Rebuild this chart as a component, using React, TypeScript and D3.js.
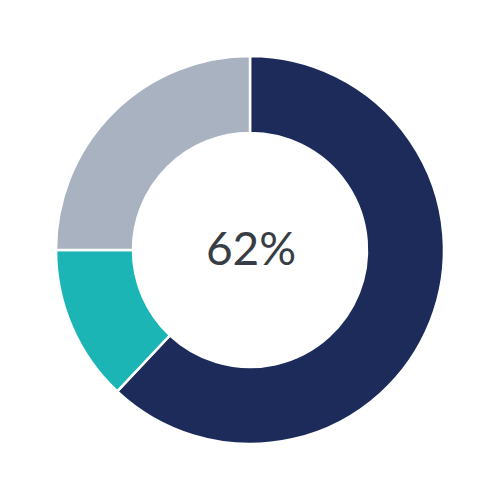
import React from "react";
import * as d3 from "d3";

const labels = ["Navy", "Teal", "Gray"];
const values = [62, 13, 25];
const colors = ["#1c2b5a", "#1bb5b6", "#a8b2c1"];
const centerLabel = "62%";

export default function App() {
  const width = 500;
  const height = 500;
  const outer = 194;
  const inner = 117;

  const pie = d3.pie<number>().sort(null).value((d) => d);
  const arcs = pie(values);
  const arcGen = d3.arc<d3.PieArcDatum<number>>().innerRadius(inner).outerRadius(outer);

  return (
    <svg width={width} height={height} style={{ position: "absolute", left: 0, top: 0, background: "#fff" }}>
      <g transform={`translate(${width / 2},${height / 2})`}>
        {arcs.map((a, i) => (
          <path key={labels[i]} d={arcGen(a) || ""} fill={colors[i]} stroke="#fff" strokeWidth={2.5} />
        ))}
        <text
          x={1}
          y={15}
          textAnchor="middle"
          fontFamily="Lato, sans-serif"
          fontSize={46}
          fill="#383d45"
        >
          {centerLabel}
        </text>
      </g>
    </svg>
  );
}
